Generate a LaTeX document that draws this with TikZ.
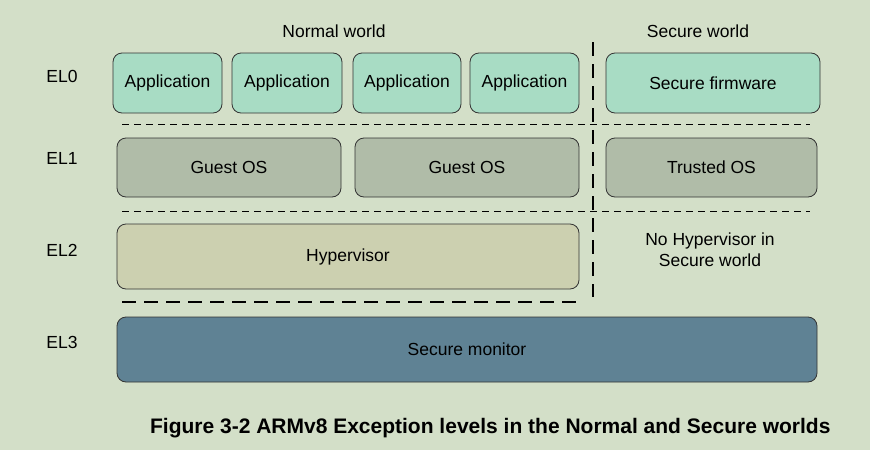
\documentclass[tikz,border=0pt]{standalone}
\usepackage{fontspec}
\setmainfont{Liberation Sans}
\begin{document}
\begin{tikzpicture}[x=1pt,y=-1pt,
  box/.style={draw=black!80,rounded corners=9pt,line width=0.8pt,font=\fontsize{17.5}{21}\selectfont},
  lbl/.style={font=\fontsize{17.5}{21}\selectfont},
  sep/.style={dash pattern=on 7pt off 5pt,line width=0.9pt},
  thick sep/.style={dash pattern=on 14pt off 8pt,line width=2pt}]
\definecolor{bgc}{HTML}{D3DFC8}
\definecolor{appc}{HTML}{A8DCC4}
\definecolor{osc}{HTML}{B0BCA8}
\definecolor{hypc}{HTML}{CCD0B0}
\definecolor{monc}{HTML}{5F8294}
\fill[bgc] (0,0) rectangle (870,450);
\useasboundingbox (0,0) rectangle (870,450);
% EL0
\node[box,fill=appc] (a1) at (167.5,83) [minimum width=109pt,minimum height=60pt] {Application};
\node[box,fill=appc] (a2) at (287,83) [minimum width=110pt,minimum height=60pt] {Application};
\node[box,fill=appc] (a3) at (407,83) [minimum width=108pt,minimum height=60pt] {Application};
\node[box,fill=appc] (a4) at (524.5,83) [minimum width=109pt,minimum height=60pt] {Application};
\node[box,fill=appc] (sf) at (713,83) [minimum width=214pt,minimum height=60pt] {Secure firmware};
% EL1
\node[box,fill=osc] (g1) at (229,167.5) [minimum width=224pt,minimum height=59pt] {Guest OS};
\node[box,fill=osc] (g2) at (467,167.5) [minimum width=224pt,minimum height=59pt] {Guest OS};
\node[box,fill=osc] (tos) at (711.5,167.5) [minimum width=211pt,minimum height=59pt] {Trusted OS};
% EL2
\node[box,fill=hypc] (hyp) at (348,256.5) [minimum width=462pt,minimum height=65pt] {Hypervisor};
\node[lbl,align=center] (nohyp) at (710,250) {No Hypervisor in\\Secure world};
% EL3
\node[box,fill=monc] (mon) at (467,349.5) [minimum width=700pt,minimum height=65pt] {Secure monitor};
% level labels
\node[lbl] (el0) at (62,76) {EL0};
\node[lbl] (el1) at (62,158) {EL1};
\node[lbl] (el2) at (62,250) {EL2};
\node[lbl] (el3) at (62,342) {EL3};
\node[lbl] (nw) at (334,31) {Normal world};
\node[lbl] (sw) at (698,31) {Secure world};
% separators
\draw[sep] (122,124) -- (810,124);
\draw[sep] (122,211) -- (810,211);
\draw[thick sep] (122,302) -- (582,302);
\draw[thick sep] (593,42) -- (593,297);
% caption
\node[anchor=east,font=\bfseries\fontsize{21}{25}\selectfont] (cap) at (834,428) {Figure 3-2 ARMv8 Exception levels in the Normal and Secure worlds};
\end{tikzpicture}
\end{document}
